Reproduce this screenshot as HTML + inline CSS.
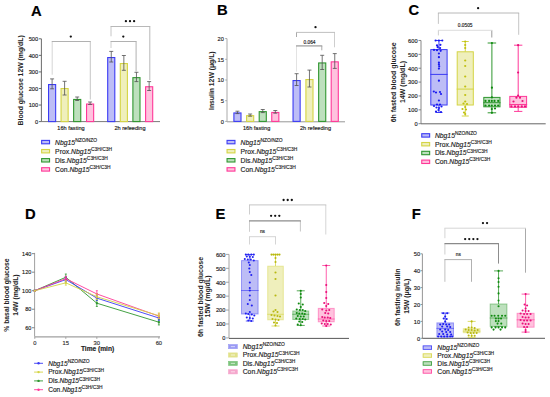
<!DOCTYPE html><html><head><meta charset="utf-8"><style>html,body{margin:0;padding:0;background:#fff;}svg{display:block;}text{font-family:"Liberation Sans", sans-serif;stroke:currentColor;stroke-width:0.15px;}</style></head><body>
<svg width="550" height="397" viewBox="0 0 550 397" font-family='"Liberation Sans", sans-serif'>
<rect width="550" height="397" fill="#fff"/>
<text x="31.00" y="15.50" font-size="14.8" text-anchor="start" font-weight="bold" font-style="normal" fill="#000" color="#000" >A</text>
<line x1="41.40" y1="38.80" x2="41.40" y2="121.60" stroke="#5a5a5a" stroke-width="0.9" />
<line x1="38.90" y1="121.60" x2="41.40" y2="121.60" stroke="#5a5a5a" stroke-width="0.9" />
<text x="38.20" y="123.95" font-size="5.7" text-anchor="end" font-weight="normal" font-style="normal" fill="#222" color="#222" >0</text>
<line x1="38.90" y1="105.04" x2="41.40" y2="105.04" stroke="#5a5a5a" stroke-width="0.9" />
<text x="38.20" y="107.39" font-size="5.7" text-anchor="end" font-weight="normal" font-style="normal" fill="#222" color="#222" >100</text>
<line x1="38.90" y1="88.48" x2="41.40" y2="88.48" stroke="#5a5a5a" stroke-width="0.9" />
<text x="38.20" y="90.83" font-size="5.7" text-anchor="end" font-weight="normal" font-style="normal" fill="#222" color="#222" >200</text>
<line x1="38.90" y1="71.92" x2="41.40" y2="71.92" stroke="#5a5a5a" stroke-width="0.9" />
<text x="38.20" y="74.27" font-size="5.7" text-anchor="end" font-weight="normal" font-style="normal" fill="#222" color="#222" >300</text>
<line x1="38.90" y1="55.36" x2="41.40" y2="55.36" stroke="#5a5a5a" stroke-width="0.9" />
<text x="38.20" y="57.71" font-size="5.7" text-anchor="end" font-weight="normal" font-style="normal" fill="#222" color="#222" >400</text>
<line x1="38.90" y1="38.80" x2="41.40" y2="38.80" stroke="#5a5a5a" stroke-width="0.9" />
<text x="38.20" y="41.15" font-size="5.7" text-anchor="end" font-weight="normal" font-style="normal" fill="#222" color="#222" >500</text>
<line x1="41.40" y1="121.60" x2="160.00" y2="121.60" stroke="#6a6a6a" stroke-width="0.9" />
<rect x="48.55" y="84.55" width="7.10" height="37.05" fill="#bdbdf6" stroke="#3b3bf4" stroke-width="1.1"/>
<line x1="52.10" y1="78.90" x2="52.10" y2="88.80" stroke="#505050" stroke-width="0.8" />
<line x1="50.10" y1="78.90" x2="54.10" y2="78.90" stroke="#505050" stroke-width="0.8" />
<line x1="50.10" y1="88.80" x2="54.10" y2="88.80" stroke="#505050" stroke-width="0.8" />
<rect x="61.05" y="88.55" width="7.10" height="33.05" fill="#efefbc" stroke="#d4d444" stroke-width="1.1"/>
<line x1="64.60" y1="81.30" x2="64.60" y2="95.00" stroke="#505050" stroke-width="0.8" />
<line x1="62.60" y1="81.30" x2="66.60" y2="81.30" stroke="#505050" stroke-width="0.8" />
<line x1="62.60" y1="95.00" x2="66.60" y2="95.00" stroke="#505050" stroke-width="0.8" />
<rect x="73.65" y="99.45" width="7.10" height="22.15" fill="#bde0bd" stroke="#2f962f" stroke-width="1.1"/>
<line x1="77.20" y1="97.00" x2="77.20" y2="100.50" stroke="#505050" stroke-width="0.8" />
<line x1="75.20" y1="97.00" x2="79.20" y2="97.00" stroke="#505050" stroke-width="0.8" />
<line x1="75.20" y1="100.50" x2="79.20" y2="100.50" stroke="#505050" stroke-width="0.8" />
<rect x="86.55" y="104.05" width="7.10" height="17.55" fill="#ffc2de" stroke="#ff3898" stroke-width="1.1"/>
<line x1="90.10" y1="102.00" x2="90.10" y2="104.50" stroke="#505050" stroke-width="0.8" />
<line x1="88.10" y1="102.00" x2="92.10" y2="102.00" stroke="#505050" stroke-width="0.8" />
<line x1="88.10" y1="104.50" x2="92.10" y2="104.50" stroke="#505050" stroke-width="0.8" />
<rect x="107.70" y="57.55" width="7.10" height="64.05" fill="#bdbdf6" stroke="#3b3bf4" stroke-width="1.1"/>
<line x1="111.25" y1="51.40" x2="111.25" y2="62.00" stroke="#505050" stroke-width="0.8" />
<line x1="109.25" y1="51.40" x2="113.25" y2="51.40" stroke="#505050" stroke-width="0.8" />
<line x1="109.25" y1="62.00" x2="113.25" y2="62.00" stroke="#505050" stroke-width="0.8" />
<rect x="120.30" y="63.55" width="7.10" height="58.05" fill="#efefbc" stroke="#d4d444" stroke-width="1.1"/>
<line x1="123.85" y1="55.50" x2="123.85" y2="70.30" stroke="#505050" stroke-width="0.8" />
<line x1="121.85" y1="55.50" x2="125.85" y2="55.50" stroke="#505050" stroke-width="0.8" />
<line x1="121.85" y1="70.30" x2="125.85" y2="70.30" stroke="#505050" stroke-width="0.8" />
<rect x="132.90" y="77.65" width="7.10" height="43.95" fill="#bde0bd" stroke="#2f962f" stroke-width="1.1"/>
<line x1="136.45" y1="72.30" x2="136.45" y2="81.60" stroke="#505050" stroke-width="0.8" />
<line x1="134.45" y1="72.30" x2="138.45" y2="72.30" stroke="#505050" stroke-width="0.8" />
<line x1="134.45" y1="81.60" x2="138.45" y2="81.60" stroke="#505050" stroke-width="0.8" />
<rect x="145.60" y="86.75" width="7.10" height="34.85" fill="#ffc2de" stroke="#ff3898" stroke-width="1.1"/>
<line x1="149.15" y1="81.60" x2="149.15" y2="90.50" stroke="#505050" stroke-width="0.8" />
<line x1="147.15" y1="81.60" x2="151.15" y2="81.60" stroke="#505050" stroke-width="0.8" />
<line x1="147.15" y1="90.50" x2="151.15" y2="90.50" stroke="#505050" stroke-width="0.8" />
<text x="71.00" y="130.00" font-size="5.6" text-anchor="middle" font-weight="normal" font-style="normal" fill="#222" color="#222" >16h fasting</text>
<text x="130.00" y="130.00" font-size="5.6" text-anchor="middle" font-weight="normal" font-style="normal" fill="#222" color="#222" >2h refeeding</text>
<text transform="translate(20.70,80.40) rotate(-90)" x="0" y="2.47" font-size="6.85" text-anchor="middle" font-weight="bold" fill="#222" style="stroke:none">Blood glucose 12W (mg/dL)</text>
<line x1="52.20" y1="41.50" x2="52.20" y2="74.70" stroke="#d0d0d0" stroke-width="0.9" />
<line x1="90.30" y1="41.50" x2="90.30" y2="99.50" stroke="#c0c0c0" stroke-width="0.9" />
<line x1="51.75" y1="41.50" x2="90.75" y2="41.50" stroke="#a8a8a8" stroke-width="0.9" />
<circle cx="70.80" cy="36.60" r="1.15" fill="#111"/>
<line x1="111.00" y1="41.50" x2="111.00" y2="48.00" stroke="#c8c8c8" stroke-width="0.9" />
<line x1="136.10" y1="41.50" x2="136.10" y2="71.50" stroke="#a8a8a8" stroke-width="0.9" />
<line x1="110.55" y1="41.50" x2="136.55" y2="41.50" stroke="#a8a8a8" stroke-width="0.9" />
<circle cx="123.30" cy="36.60" r="1.15" fill="#111"/>
<line x1="111.00" y1="26.50" x2="111.00" y2="36.30" stroke="#c0c0c0" stroke-width="0.9" />
<line x1="149.80" y1="26.50" x2="149.80" y2="80.00" stroke="#b0b0b0" stroke-width="0.9" />
<line x1="110.55" y1="26.50" x2="150.25" y2="26.50" stroke="#b0b0b0" stroke-width="0.9" />
<circle cx="125.90" cy="21.20" r="1.15" fill="#111"/>
<circle cx="130.00" cy="21.20" r="1.15" fill="#111"/>
<circle cx="134.10" cy="21.20" r="1.15" fill="#111"/>
<rect x="41.65" y="140.40" width="7.90" height="3.40" fill="#bdbdf6" stroke="#3b3bf4" stroke-width="1.1"/>
<text x="55.10" y="144.55" font-size="6.8" fill="#222" color="#222"><tspan font-style="italic">Nbg15</tspan><tspan font-size="4.9" dy="-2.86">NZO/NZO</tspan></text>
<rect x="41.65" y="149.50" width="7.90" height="3.40" fill="#efefbc" stroke="#d4d444" stroke-width="1.1"/>
<text x="55.10" y="153.65" font-size="6.8" fill="#222" color="#222">Prox.<tspan font-style="italic">Nbg15</tspan><tspan font-size="4.9" dy="-2.86">C3H/C3H</tspan></text>
<rect x="41.65" y="158.60" width="7.90" height="3.40" fill="#bde0bd" stroke="#2f962f" stroke-width="1.1"/>
<text x="55.10" y="162.75" font-size="6.8" fill="#222" color="#222">Dis.<tspan font-style="italic">Nbg15</tspan><tspan font-size="4.9" dy="-2.86">C3H/C3H</tspan></text>
<rect x="41.65" y="167.70" width="7.90" height="3.40" fill="#ffc2de" stroke="#ff3898" stroke-width="1.1"/>
<text x="55.10" y="171.85" font-size="6.8" fill="#222" color="#222">Con.<tspan font-style="italic">Nbg15</tspan><tspan font-size="4.9" dy="-2.86">C3H/C3H</tspan></text>
<text x="216.90" y="15.30" font-size="14.8" text-anchor="start" font-weight="bold" font-style="normal" fill="#000" color="#000" >B</text>
<line x1="227.00" y1="38.60" x2="227.00" y2="121.40" stroke="#a0a0a0" stroke-width="0.9" />
<line x1="225.20" y1="121.40" x2="227.00" y2="121.40" stroke="#a0a0a0" stroke-width="0.9" />
<text x="223.80" y="123.75" font-size="5.7" text-anchor="end" font-weight="normal" font-style="normal" fill="#222" color="#222" >0</text>
<line x1="225.20" y1="100.70" x2="227.00" y2="100.70" stroke="#a0a0a0" stroke-width="0.9" />
<text x="223.80" y="103.05" font-size="5.7" text-anchor="end" font-weight="normal" font-style="normal" fill="#222" color="#222" >5</text>
<line x1="225.20" y1="80.00" x2="227.00" y2="80.00" stroke="#a0a0a0" stroke-width="0.9" />
<text x="223.80" y="82.35" font-size="5.7" text-anchor="end" font-weight="normal" font-style="normal" fill="#222" color="#222" >10</text>
<line x1="225.20" y1="59.30" x2="227.00" y2="59.30" stroke="#a0a0a0" stroke-width="0.9" />
<text x="223.80" y="61.65" font-size="5.7" text-anchor="end" font-weight="normal" font-style="normal" fill="#222" color="#222" >15</text>
<line x1="225.20" y1="38.60" x2="227.00" y2="38.60" stroke="#a0a0a0" stroke-width="0.9" />
<text x="223.80" y="40.95" font-size="5.7" text-anchor="end" font-weight="normal" font-style="normal" fill="#222" color="#222" >20</text>
<line x1="227.00" y1="121.80" x2="345.00" y2="121.80" stroke="#8a8a8a" stroke-width="0.9" />
<rect x="233.90" y="112.95" width="7.10" height="8.45" fill="#bdbdf6" stroke="#3b3bf4" stroke-width="1.1"/>
<line x1="237.45" y1="111.20" x2="237.45" y2="113.60" stroke="#505050" stroke-width="0.8" />
<line x1="235.45" y1="111.20" x2="239.45" y2="111.20" stroke="#505050" stroke-width="0.8" />
<line x1="235.45" y1="113.60" x2="239.45" y2="113.60" stroke="#505050" stroke-width="0.8" />
<rect x="246.60" y="115.65" width="7.10" height="5.75" fill="#efefbc" stroke="#d4d444" stroke-width="1.1"/>
<line x1="250.15" y1="114.00" x2="250.15" y2="116.20" stroke="#505050" stroke-width="0.8" />
<line x1="248.15" y1="114.00" x2="252.15" y2="114.00" stroke="#505050" stroke-width="0.8" />
<line x1="248.15" y1="116.20" x2="252.15" y2="116.20" stroke="#505050" stroke-width="0.8" />
<rect x="259.20" y="111.65" width="7.10" height="9.75" fill="#bde0bd" stroke="#2f962f" stroke-width="1.1"/>
<line x1="262.75" y1="109.50" x2="262.75" y2="112.60" stroke="#505050" stroke-width="0.8" />
<line x1="260.75" y1="109.50" x2="264.75" y2="109.50" stroke="#505050" stroke-width="0.8" />
<line x1="260.75" y1="112.60" x2="264.75" y2="112.60" stroke="#505050" stroke-width="0.8" />
<rect x="271.75" y="112.45" width="7.10" height="8.95" fill="#ffc2de" stroke="#ff3898" stroke-width="1.1"/>
<line x1="275.30" y1="110.50" x2="275.30" y2="113.20" stroke="#505050" stroke-width="0.8" />
<line x1="273.30" y1="110.50" x2="277.30" y2="110.50" stroke="#505050" stroke-width="0.8" />
<line x1="273.30" y1="113.20" x2="277.30" y2="113.20" stroke="#505050" stroke-width="0.8" />
<rect x="293.05" y="80.55" width="7.10" height="40.85" fill="#bdbdf6" stroke="#3b3bf4" stroke-width="1.1"/>
<line x1="296.60" y1="73.70" x2="296.60" y2="85.50" stroke="#505050" stroke-width="0.8" />
<line x1="294.60" y1="73.70" x2="298.60" y2="73.70" stroke="#505050" stroke-width="0.8" />
<line x1="294.60" y1="85.50" x2="298.60" y2="85.50" stroke="#505050" stroke-width="0.8" />
<rect x="305.90" y="79.55" width="7.10" height="41.85" fill="#efefbc" stroke="#d4d444" stroke-width="1.1"/>
<line x1="309.45" y1="70.10" x2="309.45" y2="87.00" stroke="#505050" stroke-width="0.8" />
<line x1="307.45" y1="70.10" x2="311.45" y2="70.10" stroke="#505050" stroke-width="0.8" />
<line x1="307.45" y1="87.00" x2="311.45" y2="87.00" stroke="#505050" stroke-width="0.8" />
<rect x="318.65" y="62.95" width="7.10" height="58.45" fill="#bde0bd" stroke="#2f962f" stroke-width="1.1"/>
<line x1="322.20" y1="55.30" x2="322.20" y2="69.50" stroke="#505050" stroke-width="0.8" />
<line x1="320.20" y1="55.30" x2="324.20" y2="55.30" stroke="#505050" stroke-width="0.8" />
<line x1="320.20" y1="69.50" x2="324.20" y2="69.50" stroke="#505050" stroke-width="0.8" />
<rect x="331.20" y="61.85" width="7.10" height="59.55" fill="#ffc2de" stroke="#ff3898" stroke-width="1.1"/>
<line x1="334.75" y1="53.60" x2="334.75" y2="68.40" stroke="#505050" stroke-width="0.8" />
<line x1="332.75" y1="53.60" x2="336.75" y2="53.60" stroke="#505050" stroke-width="0.8" />
<line x1="332.75" y1="68.40" x2="336.75" y2="68.40" stroke="#505050" stroke-width="0.8" />
<text x="256.60" y="130.00" font-size="5.6" text-anchor="middle" font-weight="normal" font-style="normal" fill="#222" color="#222" >16h fasting</text>
<text x="315.50" y="130.00" font-size="5.6" text-anchor="middle" font-weight="normal" font-style="normal" fill="#222" color="#222" >2h refeeding</text>
<text transform="translate(211.40,80.70) rotate(-90)" x="0" y="2.45" font-size="6.8" text-anchor="middle" font-weight="bold" fill="#222" style="stroke:none">Insulin 12W (μg/L)</text>
<line x1="296.50" y1="32.40" x2="296.50" y2="37.00" stroke="#a0a0a0" stroke-width="0.9" />
<line x1="334.50" y1="32.40" x2="334.50" y2="47.30" stroke="#c8c8c8" stroke-width="0.9" />
<line x1="296.05" y1="32.40" x2="334.95" y2="32.40" stroke="#b8b8b8" stroke-width="0.9" />
<circle cx="315.50" cy="27.20" r="1.15" fill="#111"/>
<line x1="296.50" y1="45.90" x2="296.50" y2="71.70" stroke="#e0e0e0" stroke-width="0.9" />
<line x1="321.80" y1="45.90" x2="321.80" y2="50.30" stroke="#a0a0a0" stroke-width="0.9" />
<line x1="296.05" y1="45.90" x2="322.25" y2="45.90" stroke="#a0a0a0" stroke-width="1.3" />
<text x="309.50" y="43.60" font-size="4.8" text-anchor="middle" font-weight="normal" font-style="normal" fill="#222" color="#222" >0.064</text>
<rect x="227.05" y="140.40" width="7.90" height="3.40" fill="#bdbdf6" stroke="#3b3bf4" stroke-width="1.1"/>
<text x="240.50" y="144.55" font-size="6.8" fill="#222" color="#222"><tspan font-style="italic">Nbg15</tspan><tspan font-size="4.9" dy="-2.86">NZO/NZO</tspan></text>
<rect x="227.05" y="149.50" width="7.90" height="3.40" fill="#efefbc" stroke="#d4d444" stroke-width="1.1"/>
<text x="240.50" y="153.65" font-size="6.8" fill="#222" color="#222">Prox.<tspan font-style="italic">Nbg15</tspan><tspan font-size="4.9" dy="-2.86">C3H/C3H</tspan></text>
<rect x="227.05" y="158.60" width="7.90" height="3.40" fill="#bde0bd" stroke="#2f962f" stroke-width="1.1"/>
<text x="240.50" y="162.75" font-size="6.8" fill="#222" color="#222">Dis.<tspan font-style="italic">Nbg15</tspan><tspan font-size="4.9" dy="-2.86">C3H/C3H</tspan></text>
<rect x="227.05" y="167.70" width="7.90" height="3.40" fill="#ffc2de" stroke="#ff3898" stroke-width="1.1"/>
<text x="240.50" y="171.85" font-size="6.8" fill="#222" color="#222">Con.<tspan font-style="italic">Nbg15</tspan><tspan font-size="4.9" dy="-2.86">C3H/C3H</tspan></text>
<text x="408.60" y="15.30" font-size="14.8" text-anchor="start" font-weight="bold" font-style="normal" fill="#000" color="#000" >C</text>
<line x1="421.00" y1="40.48" x2="421.00" y2="123.70" stroke="#7a7a7a" stroke-width="0.9" />
<line x1="418.50" y1="123.70" x2="421.00" y2="123.70" stroke="#7a7a7a" stroke-width="0.9" />
<text x="417.60" y="126.05" font-size="5.7" text-anchor="end" font-weight="normal" font-style="normal" fill="#222" color="#222" >0</text>
<line x1="418.50" y1="109.83" x2="421.00" y2="109.83" stroke="#7a7a7a" stroke-width="0.9" />
<text x="417.60" y="112.18" font-size="5.7" text-anchor="end" font-weight="normal" font-style="normal" fill="#222" color="#222" >100</text>
<line x1="418.50" y1="95.96" x2="421.00" y2="95.96" stroke="#7a7a7a" stroke-width="0.9" />
<text x="417.60" y="98.31" font-size="5.7" text-anchor="end" font-weight="normal" font-style="normal" fill="#222" color="#222" >200</text>
<line x1="418.50" y1="82.09" x2="421.00" y2="82.09" stroke="#7a7a7a" stroke-width="0.9" />
<text x="417.60" y="84.44" font-size="5.7" text-anchor="end" font-weight="normal" font-style="normal" fill="#222" color="#222" >300</text>
<line x1="418.50" y1="68.22" x2="421.00" y2="68.22" stroke="#7a7a7a" stroke-width="0.9" />
<text x="417.60" y="70.57" font-size="5.7" text-anchor="end" font-weight="normal" font-style="normal" fill="#222" color="#222" >400</text>
<line x1="418.50" y1="54.35" x2="421.00" y2="54.35" stroke="#7a7a7a" stroke-width="0.9" />
<text x="417.60" y="56.70" font-size="5.7" text-anchor="end" font-weight="normal" font-style="normal" fill="#222" color="#222" >500</text>
<line x1="418.50" y1="40.48" x2="421.00" y2="40.48" stroke="#7a7a7a" stroke-width="0.9" />
<text x="417.60" y="42.83" font-size="5.7" text-anchor="end" font-weight="normal" font-style="normal" fill="#222" color="#222" >600</text>
<line x1="421.00" y1="123.80" x2="545.70" y2="123.80" stroke="#555" stroke-width="0.9" />
<line x1="438.95" y1="40.50" x2="438.95" y2="49.60" stroke="#3b3bf4" stroke-width="1.0" />
<line x1="438.95" y1="105.00" x2="438.95" y2="112.50" stroke="#3b3bf4" stroke-width="1.0" />
<line x1="435.45" y1="40.50" x2="442.45" y2="40.50" stroke="#3b3bf4" stroke-width="1.0" />
<line x1="435.45" y1="112.50" x2="442.45" y2="112.50" stroke="#3b3bf4" stroke-width="1.0" />
<rect x="430.80" y="49.60" width="16.30" height="55.40" fill="#bdbdf6" stroke="#3b3bf4" stroke-width="1.0"/>
<line x1="430.30" y1="74.40" x2="447.60" y2="74.40" stroke="#3b3bf4" stroke-width="1.0" />
<circle cx="435.60" cy="40.50" r="1.1" fill="#1a1af0"/>
<circle cx="438.90" cy="40.50" r="1.1" fill="#1a1af0"/>
<circle cx="442.30" cy="40.50" r="1.1" fill="#1a1af0"/>
<circle cx="437.00" cy="45.40" r="1.1" fill="#1a1af0"/>
<circle cx="440.40" cy="44.80" r="1.1" fill="#1a1af0"/>
<circle cx="437.70" cy="47.20" r="1.1" fill="#1a1af0"/>
<circle cx="440.10" cy="48.10" r="1.1" fill="#1a1af0"/>
<circle cx="434.00" cy="49.90" r="1.1" fill="#1a1af0"/>
<circle cx="437.00" cy="50.20" r="1.1" fill="#1a1af0"/>
<circle cx="440.70" cy="50.80" r="1.1" fill="#1a1af0"/>
<circle cx="438.90" cy="53.50" r="1.1" fill="#1a1af0"/>
<circle cx="438.90" cy="57.20" r="1.1" fill="#1a1af0"/>
<circle cx="438.90" cy="62.60" r="1.1" fill="#1a1af0"/>
<circle cx="438.90" cy="64.40" r="1.1" fill="#1a1af0"/>
<circle cx="439.20" cy="66.30" r="1.1" fill="#1a1af0"/>
<circle cx="438.90" cy="68.60" r="1.1" fill="#1a1af0"/>
<circle cx="438.90" cy="80.70" r="1.1" fill="#1a1af0"/>
<circle cx="433.80" cy="91.50" r="1.1" fill="#1a1af0"/>
<circle cx="436.00" cy="92.50" r="1.1" fill="#1a1af0"/>
<circle cx="440.00" cy="92.00" r="1.1" fill="#1a1af0"/>
<circle cx="441.00" cy="94.00" r="1.1" fill="#1a1af0"/>
<circle cx="438.90" cy="100.50" r="1.1" fill="#1a1af0"/>
<circle cx="437.00" cy="104.50" r="1.1" fill="#1a1af0"/>
<circle cx="440.00" cy="104.50" r="1.1" fill="#1a1af0"/>
<circle cx="434.00" cy="106.00" r="1.1" fill="#1a1af0"/>
<circle cx="436.50" cy="107.50" r="1.1" fill="#1a1af0"/>
<circle cx="439.00" cy="108.00" r="1.1" fill="#1a1af0"/>
<circle cx="441.50" cy="106.50" r="1.1" fill="#1a1af0"/>
<circle cx="438.50" cy="110.00" r="1.1" fill="#1a1af0"/>
<circle cx="436.00" cy="111.50" r="1.1" fill="#1a1af0"/>
<circle cx="441.00" cy="112.00" r="1.1" fill="#1a1af0"/>
<line x1="465.25" y1="41.50" x2="465.25" y2="51.80" stroke="#d4d444" stroke-width="1.0" />
<line x1="465.25" y1="105.00" x2="465.25" y2="116.00" stroke="#d4d444" stroke-width="1.0" />
<line x1="461.75" y1="41.50" x2="468.75" y2="41.50" stroke="#d4d444" stroke-width="1.0" />
<line x1="461.75" y1="116.00" x2="468.75" y2="116.00" stroke="#d4d444" stroke-width="1.0" />
<rect x="457.20" y="51.80" width="16.10" height="53.20" fill="#efefbc" stroke="#d4d444" stroke-width="1.0"/>
<line x1="456.70" y1="89.10" x2="473.80" y2="89.10" stroke="#d4d444" stroke-width="1.0" />
<circle cx="465.20" cy="41.50" r="1.1" fill="#c0c010"/>
<circle cx="465.20" cy="45.00" r="1.1" fill="#c0c010"/>
<circle cx="465.20" cy="48.00" r="1.1" fill="#c0c010"/>
<circle cx="465.20" cy="60.50" r="1.1" fill="#c0c010"/>
<circle cx="465.20" cy="66.00" r="1.1" fill="#c0c010"/>
<circle cx="465.20" cy="76.50" r="1.1" fill="#c0c010"/>
<circle cx="465.20" cy="86.50" r="1.1" fill="#c0c010"/>
<circle cx="465.20" cy="95.00" r="1.1" fill="#c0c010"/>
<circle cx="465.20" cy="101.50" r="1.1" fill="#c0c010"/>
<circle cx="463.50" cy="103.50" r="1.1" fill="#c0c010"/>
<circle cx="467.00" cy="104.00" r="1.1" fill="#c0c010"/>
<circle cx="465.20" cy="107.00" r="1.1" fill="#c0c010"/>
<circle cx="462.50" cy="109.00" r="1.1" fill="#c0c010"/>
<circle cx="466.00" cy="109.50" r="1.1" fill="#c0c010"/>
<circle cx="464.00" cy="112.50" r="1.1" fill="#c0c010"/>
<circle cx="465.20" cy="114.00" r="1.1" fill="#c0c010"/>
<line x1="491.90" y1="43.00" x2="491.90" y2="97.40" stroke="#2f962f" stroke-width="1.0" />
<line x1="491.90" y1="106.80" x2="491.90" y2="112.80" stroke="#2f962f" stroke-width="1.0" />
<line x1="487.65" y1="43.00" x2="496.15" y2="43.00" stroke="#2f962f" stroke-width="1.0" />
<line x1="487.65" y1="112.80" x2="496.15" y2="112.80" stroke="#2f962f" stroke-width="1.0" />
<rect x="483.80" y="97.40" width="16.20" height="9.40" fill="#bde0bd" stroke="#2f962f" stroke-width="1.0"/>
<line x1="483.30" y1="102.70" x2="500.50" y2="102.70" stroke="#2f962f" stroke-width="1.0" />
<circle cx="491.90" cy="43.00" r="1.1" fill="#108a10"/>
<circle cx="491.90" cy="87.70" r="1.1" fill="#108a10"/>
<circle cx="491.90" cy="97.40" r="1.1" fill="#108a10"/>
<circle cx="485.50" cy="100.90" r="1.1" fill="#108a10"/>
<circle cx="489.10" cy="100.90" r="1.1" fill="#108a10"/>
<circle cx="491.80" cy="100.90" r="1.1" fill="#108a10"/>
<circle cx="494.50" cy="100.90" r="1.1" fill="#108a10"/>
<circle cx="498.20" cy="100.90" r="1.1" fill="#108a10"/>
<circle cx="485.50" cy="105.50" r="1.1" fill="#108a10"/>
<circle cx="489.10" cy="105.50" r="1.1" fill="#108a10"/>
<circle cx="491.80" cy="105.50" r="1.1" fill="#108a10"/>
<circle cx="495.00" cy="105.50" r="1.1" fill="#108a10"/>
<circle cx="498.20" cy="105.50" r="1.1" fill="#108a10"/>
<circle cx="491.80" cy="109.10" r="1.1" fill="#108a10"/>
<circle cx="495.00" cy="108.50" r="1.1" fill="#108a10"/>
<circle cx="491.90" cy="112.80" r="1.1" fill="#108a10"/>
<line x1="518.20" y1="45.20" x2="518.20" y2="96.40" stroke="#ff3898" stroke-width="1.0" />
<line x1="518.20" y1="107.30" x2="518.20" y2="111.40" stroke="#ff3898" stroke-width="1.0" />
<line x1="514.05" y1="45.20" x2="522.35" y2="45.20" stroke="#ff3898" stroke-width="1.0" />
<line x1="514.05" y1="111.40" x2="522.35" y2="111.40" stroke="#ff3898" stroke-width="1.0" />
<rect x="509.80" y="96.40" width="16.80" height="10.90" fill="#ffc2de" stroke="#ff3898" stroke-width="1.0"/>
<line x1="509.30" y1="104.50" x2="527.10" y2="104.50" stroke="#ff3898" stroke-width="1.0" />
<circle cx="518.10" cy="45.20" r="1.1" fill="#e8107a"/>
<circle cx="518.10" cy="72.50" r="1.1" fill="#e8107a"/>
<circle cx="518.10" cy="95.50" r="1.1" fill="#e8107a"/>
<circle cx="516.40" cy="97.70" r="1.1" fill="#e8107a"/>
<circle cx="520.00" cy="97.70" r="1.1" fill="#e8107a"/>
<circle cx="511.40" cy="106.40" r="1.1" fill="#e8107a"/>
<circle cx="515.00" cy="106.40" r="1.1" fill="#e8107a"/>
<circle cx="518.20" cy="106.40" r="1.1" fill="#e8107a"/>
<circle cx="521.80" cy="106.40" r="1.1" fill="#e8107a"/>
<circle cx="525.00" cy="106.40" r="1.1" fill="#e8107a"/>
<circle cx="513.50" cy="101.50" r="1.1" fill="#e8107a"/>
<circle cx="522.50" cy="101.00" r="1.1" fill="#e8107a"/>
<text transform="translate(393.90,82.30) rotate(-90)" x="0" y="2.52" font-size="7.0" text-anchor="middle" font-weight="bold" fill="#222" style="stroke:none">6h fasted blood glucose</text>
<text transform="translate(402.70,82.00) rotate(-90)" x="0" y="2.52" font-size="7.0" text-anchor="middle" font-weight="bold" fill="#222" style="stroke:none">14W (mg/dL)</text>
<line x1="438.40" y1="13.00" x2="438.40" y2="23.90" stroke="#c0c0c0" stroke-width="0.9" />
<line x1="518.70" y1="13.00" x2="518.70" y2="34.80" stroke="#c0c0c0" stroke-width="0.9" />
<line x1="437.95" y1="13.00" x2="519.15" y2="13.00" stroke="#b0b0b0" stroke-width="0.9" />
<circle cx="478.10" cy="8.20" r="1.15" fill="#111"/>
<line x1="438.40" y1="30.30" x2="438.40" y2="35.40" stroke="#c8c8c8" stroke-width="0.9" />
<line x1="491.80" y1="30.30" x2="491.80" y2="37.50" stroke="#909090" stroke-width="0.9" />
<line x1="437.95" y1="30.30" x2="492.25" y2="30.30" stroke="#d8d8d8" stroke-width="0.9" />
<text x="465.20" y="27.30" font-size="4.8" text-anchor="middle" font-weight="normal" font-style="normal" fill="#222" color="#222" >0.0505</text>
<rect x="421.75" y="133.70" width="7.90" height="3.40" fill="#bdbdf6" stroke="#3b3bf4" stroke-width="1.1"/>
<text x="434.90" y="137.85" font-size="6.8" fill="#222" color="#222"><tspan font-style="italic">Nbg15</tspan><tspan font-size="4.9" dy="-2.86">NZO/NZO</tspan></text>
<rect x="421.75" y="142.50" width="7.90" height="3.40" fill="#efefbc" stroke="#d4d444" stroke-width="1.1"/>
<text x="434.90" y="146.65" font-size="6.8" fill="#222" color="#222">Prox.<tspan font-style="italic">Nbg15</tspan><tspan font-size="4.9" dy="-2.86">C3H/C3H</tspan></text>
<rect x="421.75" y="151.30" width="7.90" height="3.40" fill="#bde0bd" stroke="#2f962f" stroke-width="1.1"/>
<text x="434.90" y="155.45" font-size="6.8" fill="#222" color="#222">Dis.<tspan font-style="italic">Nbg15</tspan><tspan font-size="4.9" dy="-2.86">C3H/C3H</tspan></text>
<rect x="421.75" y="160.10" width="7.90" height="3.40" fill="#ffc2de" stroke="#ff3898" stroke-width="1.1"/>
<text x="434.90" y="164.25" font-size="6.8" fill="#222" color="#222">Con.<tspan font-style="italic">Nbg15</tspan><tspan font-size="4.9" dy="-2.86">C3H/C3H</tspan></text>
<text x="24.90" y="219.20" font-size="14.8" text-anchor="start" font-weight="bold" font-style="normal" fill="#000" color="#000" >D</text>
<line x1="34.60" y1="252.90" x2="34.60" y2="336.70" stroke="#959595" stroke-width="0.9" />
<line x1="32.00" y1="327.74" x2="34.60" y2="327.74" stroke="#777" stroke-width="0.9" />
<text x="31.30" y="329.74" font-size="5.5" text-anchor="end" font-weight="normal" font-style="normal" fill="#222" color="#222" >60</text>
<line x1="32.00" y1="309.22" x2="34.60" y2="309.22" stroke="#777" stroke-width="0.9" />
<text x="31.30" y="311.22" font-size="5.5" text-anchor="end" font-weight="normal" font-style="normal" fill="#222" color="#222" >80</text>
<line x1="32.00" y1="290.70" x2="34.60" y2="290.70" stroke="#777" stroke-width="0.9" />
<text x="31.30" y="292.70" font-size="5.5" text-anchor="end" font-weight="normal" font-style="normal" fill="#222" color="#222" >100</text>
<line x1="32.00" y1="272.18" x2="34.60" y2="272.18" stroke="#777" stroke-width="0.9" />
<text x="31.30" y="274.18" font-size="5.5" text-anchor="end" font-weight="normal" font-style="normal" fill="#222" color="#222" >120</text>
<line x1="32.00" y1="253.66" x2="34.60" y2="253.66" stroke="#777" stroke-width="0.9" />
<text x="31.30" y="255.66" font-size="5.5" text-anchor="end" font-weight="normal" font-style="normal" fill="#222" color="#222" >140</text>
<line x1="34.60" y1="336.90" x2="160.00" y2="336.90" stroke="#a0a0a0" stroke-width="1.4" />
<line x1="34.80" y1="336.90" x2="34.80" y2="338.80" stroke="#a0a0a0" stroke-width="1" />
<text x="34.80" y="344.80" font-size="5.8" text-anchor="middle" font-weight="normal" font-style="normal" fill="#333" color="#333" >0</text>
<line x1="65.82" y1="336.90" x2="65.82" y2="338.80" stroke="#a0a0a0" stroke-width="1" />
<text x="65.82" y="344.80" font-size="5.8" text-anchor="middle" font-weight="normal" font-style="normal" fill="#333" color="#333" >15</text>
<line x1="96.84" y1="336.90" x2="96.84" y2="338.80" stroke="#a0a0a0" stroke-width="1" />
<text x="96.84" y="344.80" font-size="5.8" text-anchor="middle" font-weight="normal" font-style="normal" fill="#333" color="#333" >30</text>
<line x1="158.88" y1="336.90" x2="158.88" y2="338.80" stroke="#a0a0a0" stroke-width="1" />
<text x="158.88" y="344.80" font-size="5.8" text-anchor="middle" font-weight="normal" font-style="normal" fill="#333" color="#333" >60</text>
<text x="97.50" y="351.30" font-size="6.6" text-anchor="middle" font-weight="bold" font-style="normal" fill="#222" color="#222" >Time (min)</text>
<text transform="translate(7.00,295.10) rotate(-90)" x="0" y="2.45" font-size="6.8" text-anchor="middle" font-weight="bold" fill="#222" style="stroke:none">% basal blood glucose</text>
<text transform="translate(15.50,295.00) rotate(-90)" x="0" y="2.48" font-size="6.9" text-anchor="middle" font-weight="bold" fill="#222" style="stroke:none">14W (mg/dL)</text>
<polyline points="34.80,290.70 65.82,277.27 96.84,303.20 158.88,322.18" stroke="#2f962f" stroke-width="0.9" fill="none"/>
<polyline points="34.80,290.70 65.82,279.59 96.84,298.11 158.88,318.02" stroke="#3b3bf4" stroke-width="0.9" fill="none"/>
<polyline points="34.80,290.70 65.82,278.66 96.84,293.94 158.88,316.16" stroke="#ff3898" stroke-width="0.9" fill="none"/>
<polyline points="34.80,290.70 65.82,282.83 96.84,296.72 158.88,315.70" stroke="#d4d444" stroke-width="0.9" fill="none"/>
<rect x="33.80" y="289.70" width="2.00" height="2.00" fill="#2f962f" stroke="none" stroke-width="1"/>
<line x1="65.82" y1="274.03" x2="65.82" y2="280.51" stroke="#2f962f" stroke-width="0.8" />
<line x1="64.82" y1="274.03" x2="66.82" y2="274.03" stroke="#2f962f" stroke-width="0.8" />
<line x1="64.82" y1="280.51" x2="66.82" y2="280.51" stroke="#2f962f" stroke-width="0.8" />
<rect x="64.82" y="276.27" width="2.00" height="2.00" fill="#2f962f" stroke="none" stroke-width="1"/>
<line x1="96.84" y1="299.96" x2="96.84" y2="306.44" stroke="#2f962f" stroke-width="0.8" />
<line x1="95.84" y1="299.96" x2="97.84" y2="299.96" stroke="#2f962f" stroke-width="0.8" />
<line x1="95.84" y1="306.44" x2="97.84" y2="306.44" stroke="#2f962f" stroke-width="0.8" />
<rect x="95.84" y="302.20" width="2.00" height="2.00" fill="#2f962f" stroke="none" stroke-width="1"/>
<line x1="158.88" y1="319.41" x2="158.88" y2="324.96" stroke="#2f962f" stroke-width="0.8" />
<line x1="157.88" y1="319.41" x2="159.88" y2="319.41" stroke="#2f962f" stroke-width="0.8" />
<line x1="157.88" y1="324.96" x2="159.88" y2="324.96" stroke="#2f962f" stroke-width="0.8" />
<rect x="157.88" y="321.18" width="2.00" height="2.00" fill="#2f962f" stroke="none" stroke-width="1"/>
<rect x="33.80" y="289.70" width="2.00" height="2.00" fill="#3b3bf4" stroke="none" stroke-width="1"/>
<line x1="65.82" y1="277.27" x2="65.82" y2="281.90" stroke="#3b3bf4" stroke-width="0.8" />
<line x1="64.82" y1="277.27" x2="66.82" y2="277.27" stroke="#3b3bf4" stroke-width="0.8" />
<line x1="64.82" y1="281.90" x2="66.82" y2="281.90" stroke="#3b3bf4" stroke-width="0.8" />
<rect x="64.82" y="278.59" width="2.00" height="2.00" fill="#3b3bf4" stroke="none" stroke-width="1"/>
<line x1="96.84" y1="295.79" x2="96.84" y2="300.42" stroke="#3b3bf4" stroke-width="0.8" />
<line x1="95.84" y1="295.79" x2="97.84" y2="295.79" stroke="#3b3bf4" stroke-width="0.8" />
<line x1="95.84" y1="300.42" x2="97.84" y2="300.42" stroke="#3b3bf4" stroke-width="0.8" />
<rect x="95.84" y="297.11" width="2.00" height="2.00" fill="#3b3bf4" stroke="none" stroke-width="1"/>
<line x1="158.88" y1="315.70" x2="158.88" y2="320.33" stroke="#3b3bf4" stroke-width="0.8" />
<line x1="157.88" y1="315.70" x2="159.88" y2="315.70" stroke="#3b3bf4" stroke-width="0.8" />
<line x1="157.88" y1="320.33" x2="159.88" y2="320.33" stroke="#3b3bf4" stroke-width="0.8" />
<rect x="157.88" y="317.02" width="2.00" height="2.00" fill="#3b3bf4" stroke="none" stroke-width="1"/>
<rect x="33.80" y="289.70" width="2.00" height="2.00" fill="#ff3898" stroke="none" stroke-width="1"/>
<line x1="65.82" y1="276.35" x2="65.82" y2="280.98" stroke="#ff3898" stroke-width="0.8" />
<line x1="64.82" y1="276.35" x2="66.82" y2="276.35" stroke="#ff3898" stroke-width="0.8" />
<line x1="64.82" y1="280.98" x2="66.82" y2="280.98" stroke="#ff3898" stroke-width="0.8" />
<rect x="64.82" y="277.66" width="2.00" height="2.00" fill="#ff3898" stroke="none" stroke-width="1"/>
<line x1="96.84" y1="290.70" x2="96.84" y2="297.18" stroke="#ff3898" stroke-width="0.8" />
<line x1="95.84" y1="290.70" x2="97.84" y2="290.70" stroke="#ff3898" stroke-width="0.8" />
<line x1="95.84" y1="297.18" x2="97.84" y2="297.18" stroke="#ff3898" stroke-width="0.8" />
<rect x="95.84" y="292.94" width="2.00" height="2.00" fill="#ff3898" stroke="none" stroke-width="1"/>
<line x1="158.88" y1="313.85" x2="158.88" y2="318.48" stroke="#ff3898" stroke-width="0.8" />
<line x1="157.88" y1="313.85" x2="159.88" y2="313.85" stroke="#ff3898" stroke-width="0.8" />
<line x1="157.88" y1="318.48" x2="159.88" y2="318.48" stroke="#ff3898" stroke-width="0.8" />
<rect x="157.88" y="315.16" width="2.00" height="2.00" fill="#ff3898" stroke="none" stroke-width="1"/>
<rect x="33.80" y="289.70" width="2.00" height="2.00" fill="#d4d444" stroke="none" stroke-width="1"/>
<line x1="65.82" y1="280.51" x2="65.82" y2="285.14" stroke="#d4d444" stroke-width="0.8" />
<line x1="64.82" y1="280.51" x2="66.82" y2="280.51" stroke="#d4d444" stroke-width="0.8" />
<line x1="64.82" y1="285.14" x2="66.82" y2="285.14" stroke="#d4d444" stroke-width="0.8" />
<rect x="64.82" y="281.83" width="2.00" height="2.00" fill="#d4d444" stroke="none" stroke-width="1"/>
<line x1="96.84" y1="293.94" x2="96.84" y2="299.50" stroke="#d4d444" stroke-width="0.8" />
<line x1="95.84" y1="293.94" x2="97.84" y2="293.94" stroke="#d4d444" stroke-width="0.8" />
<line x1="95.84" y1="299.50" x2="97.84" y2="299.50" stroke="#d4d444" stroke-width="0.8" />
<rect x="95.84" y="295.72" width="2.00" height="2.00" fill="#d4d444" stroke="none" stroke-width="1"/>
<line x1="158.88" y1="312.92" x2="158.88" y2="318.48" stroke="#d4d444" stroke-width="0.8" />
<line x1="157.88" y1="312.92" x2="159.88" y2="312.92" stroke="#d4d444" stroke-width="0.8" />
<line x1="157.88" y1="318.48" x2="159.88" y2="318.48" stroke="#d4d444" stroke-width="0.8" />
<rect x="157.88" y="314.70" width="2.00" height="2.00" fill="#d4d444" stroke="none" stroke-width="1"/>
<line x1="34.10" y1="363.30" x2="43.00" y2="363.30" stroke="#3b3bf4" stroke-width="0.9" />
<circle cx="38.55" cy="363.30" r="1.2" fill="#3b3bf4"/>
<text x="48.20" y="365.68" font-size="6.6" fill="#222" color="#222"><tspan font-style="italic">Nbg15</tspan><tspan font-size="4.9" dy="-2.77">NZO/NZO</tspan></text>
<line x1="34.10" y1="372.10" x2="43.00" y2="372.10" stroke="#d4d444" stroke-width="0.9" />
<circle cx="38.55" cy="372.10" r="1.2" fill="#d4d444"/>
<text x="48.20" y="374.48" font-size="6.6" fill="#222" color="#222">Prox.<tspan font-style="italic">Nbg15</tspan><tspan font-size="4.9" dy="-2.77">C3H/C3H</tspan></text>
<line x1="34.10" y1="380.90" x2="43.00" y2="380.90" stroke="#2f962f" stroke-width="0.9" />
<circle cx="38.55" cy="380.90" r="1.2" fill="#2f962f"/>
<text x="48.20" y="383.28" font-size="6.6" fill="#222" color="#222">Dis.<tspan font-style="italic">Nbg15</tspan><tspan font-size="4.9" dy="-2.77">C3H/C3H</tspan></text>
<line x1="34.10" y1="389.70" x2="43.00" y2="389.70" stroke="#ff3898" stroke-width="0.9" />
<circle cx="38.55" cy="389.70" r="1.2" fill="#ff3898"/>
<text x="48.20" y="392.08" font-size="6.6" fill="#222" color="#222">Con.<tspan font-style="italic">Nbg15</tspan><tspan font-size="4.9" dy="-2.77">C3H/C3H</tspan></text>
<text x="215.50" y="219.30" font-size="14.8" text-anchor="start" font-weight="bold" font-style="normal" fill="#000" color="#000" >E</text>
<line x1="229.00" y1="254.38" x2="229.00" y2="337.90" stroke="#9a9a9a" stroke-width="0.9" />
<line x1="226.00" y1="337.90" x2="229.00" y2="337.90" stroke="#9a9a9a" stroke-width="0.9" />
<text x="225.40" y="340.25" font-size="5.7" text-anchor="end" font-weight="normal" font-style="normal" fill="#222" color="#222" >0</text>
<line x1="226.00" y1="323.98" x2="229.00" y2="323.98" stroke="#9a9a9a" stroke-width="0.9" />
<text x="225.40" y="326.33" font-size="5.7" text-anchor="end" font-weight="normal" font-style="normal" fill="#222" color="#222" >100</text>
<line x1="226.00" y1="310.06" x2="229.00" y2="310.06" stroke="#9a9a9a" stroke-width="0.9" />
<text x="225.40" y="312.41" font-size="5.7" text-anchor="end" font-weight="normal" font-style="normal" fill="#222" color="#222" >200</text>
<line x1="226.00" y1="296.14" x2="229.00" y2="296.14" stroke="#9a9a9a" stroke-width="0.9" />
<text x="225.40" y="298.49" font-size="5.7" text-anchor="end" font-weight="normal" font-style="normal" fill="#222" color="#222" >300</text>
<line x1="226.00" y1="282.22" x2="229.00" y2="282.22" stroke="#9a9a9a" stroke-width="0.9" />
<text x="225.40" y="284.57" font-size="5.7" text-anchor="end" font-weight="normal" font-style="normal" fill="#222" color="#222" >400</text>
<line x1="226.00" y1="268.30" x2="229.00" y2="268.30" stroke="#9a9a9a" stroke-width="0.9" />
<text x="225.40" y="270.65" font-size="5.7" text-anchor="end" font-weight="normal" font-style="normal" fill="#222" color="#222" >500</text>
<line x1="226.00" y1="254.38" x2="229.00" y2="254.38" stroke="#9a9a9a" stroke-width="0.9" />
<text x="225.40" y="256.73" font-size="5.7" text-anchor="end" font-weight="normal" font-style="normal" fill="#222" color="#222" >600</text>
<line x1="229.00" y1="338.40" x2="349.00" y2="338.40" stroke="#444" stroke-width="0.9" />
<line x1="249.80" y1="254.50" x2="249.80" y2="260.60" stroke="#3b3bf4" stroke-width="0.8" />
<line x1="249.80" y1="314.00" x2="249.80" y2="321.00" stroke="#3b3bf4" stroke-width="0.8" />
<line x1="245.80" y1="254.50" x2="253.80" y2="254.50" stroke="#3b3bf4" stroke-width="0.8" />
<line x1="245.80" y1="321.00" x2="253.80" y2="321.00" stroke="#3b3bf4" stroke-width="0.8" />
<rect x="241.50" y="260.60" width="16.60" height="53.40" fill="#bdbdf6" stroke="#3b3bf4" stroke-opacity="0.45" stroke-width="1"/>
<line x1="241.00" y1="290.50" x2="258.60" y2="290.50" stroke="#3b3bf4" stroke-width="0.8" stroke-opacity="0.75"/>
<circle cx="245.80" cy="254.60" r="1.05" fill="#2020f0"/>
<circle cx="248.30" cy="254.60" r="1.05" fill="#2020f0"/>
<circle cx="251.30" cy="254.60" r="1.05" fill="#2020f0"/>
<circle cx="253.80" cy="254.60" r="1.05" fill="#2020f0"/>
<circle cx="246.80" cy="256.50" r="1.05" fill="#2020f0"/>
<circle cx="249.80" cy="256.80" r="1.05" fill="#2020f0"/>
<circle cx="252.80" cy="257.00" r="1.05" fill="#2020f0"/>
<circle cx="244.80" cy="259.00" r="1.05" fill="#2020f0"/>
<circle cx="247.80" cy="259.50" r="1.05" fill="#2020f0"/>
<circle cx="250.80" cy="259.50" r="1.05" fill="#2020f0"/>
<circle cx="253.80" cy="260.50" r="1.05" fill="#2020f0"/>
<circle cx="248.80" cy="262.50" r="1.05" fill="#2020f0"/>
<circle cx="249.80" cy="265.00" r="1.05" fill="#2020f0"/>
<circle cx="249.30" cy="268.50" r="1.05" fill="#2020f0"/>
<circle cx="249.80" cy="272.00" r="1.05" fill="#2020f0"/>
<circle cx="251.30" cy="275.00" r="1.05" fill="#2020f0"/>
<circle cx="249.80" cy="282.50" r="1.05" fill="#2020f0"/>
<circle cx="249.80" cy="288.00" r="1.05" fill="#2020f0"/>
<circle cx="249.80" cy="290.50" r="1.05" fill="#2020f0"/>
<circle cx="249.80" cy="295.50" r="1.05" fill="#2020f0"/>
<circle cx="249.80" cy="300.00" r="1.05" fill="#2020f0"/>
<circle cx="247.80" cy="304.00" r="1.05" fill="#2020f0"/>
<circle cx="251.80" cy="305.50" r="1.05" fill="#2020f0"/>
<circle cx="249.80" cy="312.00" r="1.05" fill="#2020f0"/>
<circle cx="245.80" cy="313.50" r="1.05" fill="#2020f0"/>
<circle cx="248.30" cy="314.00" r="1.05" fill="#2020f0"/>
<circle cx="251.80" cy="314.50" r="1.05" fill="#2020f0"/>
<circle cx="254.30" cy="315.50" r="1.05" fill="#2020f0"/>
<circle cx="246.80" cy="317.50" r="1.05" fill="#2020f0"/>
<circle cx="249.80" cy="318.00" r="1.05" fill="#2020f0"/>
<circle cx="252.80" cy="318.50" r="1.05" fill="#2020f0"/>
<circle cx="248.30" cy="320.50" r="1.05" fill="#2020f0"/>
<circle cx="251.30" cy="321.00" r="1.05" fill="#2020f0"/>
<line x1="275.50" y1="254.60" x2="275.50" y2="266.20" stroke="#d4d444" stroke-width="0.8" />
<line x1="275.50" y1="319.80" x2="275.50" y2="326.00" stroke="#d4d444" stroke-width="0.8" />
<line x1="271.50" y1="254.60" x2="279.50" y2="254.60" stroke="#d4d444" stroke-width="0.8" />
<line x1="271.50" y1="326.00" x2="279.50" y2="326.00" stroke="#d4d444" stroke-width="0.8" />
<rect x="267.70" y="266.20" width="15.60" height="53.60" fill="#efefbc" stroke="#d4d444" stroke-opacity="0.45" stroke-width="1"/>
<line x1="267.20" y1="314.30" x2="283.80" y2="314.30" stroke="#d4d444" stroke-width="0.8" stroke-opacity="0.75"/>
<circle cx="271.50" cy="254.60" r="1.05" fill="#b8b810"/>
<circle cx="273.50" cy="254.60" r="1.05" fill="#b8b810"/>
<circle cx="275.50" cy="254.60" r="1.05" fill="#b8b810"/>
<circle cx="277.50" cy="254.60" r="1.05" fill="#b8b810"/>
<circle cx="279.50" cy="254.60" r="1.05" fill="#b8b810"/>
<circle cx="275.50" cy="258.00" r="1.05" fill="#b8b810"/>
<circle cx="275.50" cy="262.00" r="1.05" fill="#b8b810"/>
<circle cx="275.50" cy="272.50" r="1.05" fill="#b8b810"/>
<circle cx="275.50" cy="279.00" r="1.05" fill="#b8b810"/>
<circle cx="275.50" cy="295.50" r="1.05" fill="#b8b810"/>
<circle cx="275.50" cy="310.00" r="1.05" fill="#b8b810"/>
<circle cx="273.50" cy="311.50" r="1.05" fill="#b8b810"/>
<circle cx="277.50" cy="312.00" r="1.05" fill="#b8b810"/>
<circle cx="271.50" cy="315.00" r="1.05" fill="#b8b810"/>
<circle cx="274.50" cy="315.50" r="1.05" fill="#b8b810"/>
<circle cx="277.50" cy="316.00" r="1.05" fill="#b8b810"/>
<circle cx="280.00" cy="316.50" r="1.05" fill="#b8b810"/>
<circle cx="272.50" cy="319.00" r="1.05" fill="#b8b810"/>
<circle cx="275.50" cy="319.50" r="1.05" fill="#b8b810"/>
<circle cx="278.50" cy="320.00" r="1.05" fill="#b8b810"/>
<circle cx="274.00" cy="322.50" r="1.05" fill="#b8b810"/>
<circle cx="277.00" cy="323.00" r="1.05" fill="#b8b810"/>
<circle cx="275.50" cy="325.50" r="1.05" fill="#b8b810"/>
<line x1="300.75" y1="290.80" x2="300.75" y2="311.00" stroke="#2f962f" stroke-width="0.8" />
<line x1="300.75" y1="319.50" x2="300.75" y2="325.40" stroke="#2f962f" stroke-width="0.8" />
<line x1="296.75" y1="290.80" x2="304.75" y2="290.80" stroke="#2f962f" stroke-width="0.8" />
<line x1="296.75" y1="325.40" x2="304.75" y2="325.40" stroke="#2f962f" stroke-width="0.8" />
<rect x="292.80" y="311.00" width="15.90" height="8.50" fill="#bde0bd" stroke="#2f962f" stroke-opacity="0.45" stroke-width="1"/>
<line x1="292.30" y1="314.30" x2="309.20" y2="314.30" stroke="#2f962f" stroke-width="0.8" stroke-opacity="0.75"/>
<circle cx="300.75" cy="290.80" r="1.05" fill="#108a10"/>
<circle cx="300.75" cy="294.00" r="1.05" fill="#108a10"/>
<circle cx="300.75" cy="297.50" r="1.05" fill="#108a10"/>
<circle cx="298.75" cy="303.50" r="1.05" fill="#108a10"/>
<circle cx="302.75" cy="304.50" r="1.05" fill="#108a10"/>
<circle cx="300.75" cy="307.00" r="1.05" fill="#108a10"/>
<circle cx="296.75" cy="309.50" r="1.05" fill="#108a10"/>
<circle cx="299.75" cy="310.00" r="1.05" fill="#108a10"/>
<circle cx="302.75" cy="310.00" r="1.05" fill="#108a10"/>
<circle cx="305.25" cy="311.00" r="1.05" fill="#108a10"/>
<circle cx="296.75" cy="313.00" r="1.05" fill="#108a10"/>
<circle cx="299.25" cy="313.50" r="1.05" fill="#108a10"/>
<circle cx="302.25" cy="313.50" r="1.05" fill="#108a10"/>
<circle cx="304.75" cy="314.00" r="1.05" fill="#108a10"/>
<circle cx="297.75" cy="316.00" r="1.05" fill="#108a10"/>
<circle cx="300.75" cy="316.50" r="1.05" fill="#108a10"/>
<circle cx="303.75" cy="316.50" r="1.05" fill="#108a10"/>
<circle cx="296.25" cy="318.50" r="1.05" fill="#108a10"/>
<circle cx="299.75" cy="319.00" r="1.05" fill="#108a10"/>
<circle cx="302.75" cy="319.00" r="1.05" fill="#108a10"/>
<circle cx="305.25" cy="319.50" r="1.05" fill="#108a10"/>
<circle cx="299.25" cy="321.50" r="1.05" fill="#108a10"/>
<circle cx="302.25" cy="322.00" r="1.05" fill="#108a10"/>
<circle cx="297.75" cy="324.50" r="1.05" fill="#108a10"/>
<circle cx="300.75" cy="325.20" r="1.05" fill="#108a10"/>
<line x1="326.25" y1="265.50" x2="326.25" y2="308.40" stroke="#ff3898" stroke-width="0.8" />
<line x1="326.25" y1="321.80" x2="326.25" y2="326.00" stroke="#ff3898" stroke-width="0.8" />
<line x1="322.25" y1="265.50" x2="330.25" y2="265.50" stroke="#ff3898" stroke-width="0.8" />
<line x1="322.25" y1="326.00" x2="330.25" y2="326.00" stroke="#ff3898" stroke-width="0.8" />
<rect x="318.30" y="308.40" width="15.90" height="13.40" fill="#ffc2de" stroke="#ff3898" stroke-opacity="0.45" stroke-width="1"/>
<line x1="317.80" y1="319.00" x2="334.70" y2="319.00" stroke="#ff3898" stroke-width="0.8" stroke-opacity="0.75"/>
<circle cx="326.25" cy="265.50" r="1.05" fill="#e8107a"/>
<circle cx="326.25" cy="285.00" r="1.05" fill="#e8107a"/>
<circle cx="326.25" cy="292.00" r="1.05" fill="#e8107a"/>
<circle cx="326.25" cy="298.00" r="1.05" fill="#e8107a"/>
<circle cx="324.25" cy="303.00" r="1.05" fill="#e8107a"/>
<circle cx="328.25" cy="304.00" r="1.05" fill="#e8107a"/>
<circle cx="326.25" cy="306.00" r="1.05" fill="#e8107a"/>
<circle cx="322.25" cy="309.50" r="1.05" fill="#e8107a"/>
<circle cx="326.25" cy="310.50" r="1.05" fill="#e8107a"/>
<circle cx="329.25" cy="310.00" r="1.05" fill="#e8107a"/>
<circle cx="325.25" cy="313.00" r="1.05" fill="#e8107a"/>
<circle cx="328.25" cy="313.50" r="1.05" fill="#e8107a"/>
<circle cx="322.25" cy="317.00" r="1.05" fill="#e8107a"/>
<circle cx="324.75" cy="317.50" r="1.05" fill="#e8107a"/>
<circle cx="327.75" cy="317.50" r="1.05" fill="#e8107a"/>
<circle cx="330.25" cy="318.00" r="1.05" fill="#e8107a"/>
<circle cx="323.25" cy="320.50" r="1.05" fill="#e8107a"/>
<circle cx="326.25" cy="321.00" r="1.05" fill="#e8107a"/>
<circle cx="329.25" cy="321.00" r="1.05" fill="#e8107a"/>
<circle cx="321.75" cy="323.50" r="1.05" fill="#e8107a"/>
<circle cx="324.75" cy="324.00" r="1.05" fill="#e8107a"/>
<circle cx="327.75" cy="324.00" r="1.05" fill="#e8107a"/>
<circle cx="330.75" cy="324.50" r="1.05" fill="#e8107a"/>
<circle cx="326.25" cy="326.00" r="1.05" fill="#e8107a"/>
<text transform="translate(200.40,297.00) rotate(-90)" x="0" y="2.52" font-size="7.0" text-anchor="middle" font-weight="bold" fill="#222" style="stroke:none">6h fasted blood glucose</text>
<text transform="translate(207.90,296.50) rotate(-90)" x="0" y="2.52" font-size="7.0" text-anchor="middle" font-weight="bold" fill="#222" style="stroke:none">15W (mg/dL)</text>
<line x1="249.50" y1="204.90" x2="249.50" y2="214.50" stroke="#c8c8c8" stroke-width="0.9" />
<line x1="325.80" y1="204.90" x2="325.80" y2="234.50" stroke="#d0d0d0" stroke-width="0.9" />
<line x1="249.05" y1="204.90" x2="326.25" y2="204.90" stroke="#c0c0c0" stroke-width="0.9" />
<circle cx="283.60" cy="200.00" r="1.15" fill="#111"/>
<circle cx="287.70" cy="200.00" r="1.15" fill="#111"/>
<circle cx="291.80" cy="200.00" r="1.15" fill="#111"/>
<line x1="249.50" y1="220.90" x2="249.50" y2="231.80" stroke="#c8c8c8" stroke-width="0.9" />
<line x1="300.40" y1="220.90" x2="300.40" y2="231.50" stroke="#c0c0c0" stroke-width="0.9" />
<line x1="249.05" y1="220.90" x2="300.85" y2="220.90" stroke="#8c8c8c" stroke-width="1.2" />
<circle cx="271.10" cy="215.80" r="1.15" fill="#111"/>
<circle cx="275.20" cy="215.80" r="1.15" fill="#111"/>
<circle cx="279.30" cy="215.80" r="1.15" fill="#111"/>
<line x1="249.50" y1="236.70" x2="249.50" y2="244.50" stroke="#d0d0d0" stroke-width="0.9" />
<line x1="275.50" y1="236.70" x2="275.50" y2="244.50" stroke="#d0d0d0" stroke-width="0.9" />
<line x1="249.05" y1="236.70" x2="275.95" y2="236.70" stroke="#d0d0d0" stroke-width="0.9" />
<text x="262.50" y="233.20" font-size="4.8" text-anchor="middle" font-weight="normal" font-style="normal" fill="#222" color="#222" >ns</text>
<rect x="228.50" y="344.50" width="8.80" height="4.20" fill="#9a9af4" stroke="#9a9af4" stroke-width="0.6"/>
<rect x="230.80" y="346.05" width="4.20" height="1.1" fill="#fff" fill-opacity="0.55"/>
<text x="242.70" y="349.05" font-size="6.8" fill="#222" color="#222"><tspan font-style="italic">Nbg15</tspan><tspan font-size="4.9" dy="-2.86">NZO/NZO</tspan></text>
<rect x="228.50" y="352.90" width="8.80" height="4.20" fill="#e2e28a" stroke="#e2e28a" stroke-width="0.6"/>
<rect x="230.80" y="354.45" width="4.20" height="1.1" fill="#fff" fill-opacity="0.55"/>
<text x="242.70" y="357.45" font-size="6.8" fill="#222" color="#222">Prox.<tspan font-style="italic">Nbg15</tspan><tspan font-size="4.9" dy="-2.86">C3H/C3H</tspan></text>
<rect x="228.50" y="361.30" width="8.80" height="4.20" fill="#7cc47c" stroke="#7cc47c" stroke-width="0.6"/>
<rect x="230.80" y="362.85" width="4.20" height="1.1" fill="#fff" fill-opacity="0.55"/>
<text x="242.70" y="365.85" font-size="6.8" fill="#222" color="#222">Dis.<tspan font-style="italic">Nbg15</tspan><tspan font-size="4.9" dy="-2.86">C3H/C3H</tspan></text>
<rect x="228.50" y="369.70" width="8.80" height="4.20" fill="#f5a6cc" stroke="#f5a6cc" stroke-width="0.6"/>
<rect x="230.80" y="371.25" width="4.20" height="1.1" fill="#fff" fill-opacity="0.55"/>
<text x="242.70" y="374.25" font-size="6.8" fill="#222" color="#222">Con.<tspan font-style="italic">Nbg15</tspan><tspan font-size="4.9" dy="-2.86">C3H/C3H</tspan></text>
<text x="411.80" y="219.30" font-size="14.8" text-anchor="start" font-weight="bold" font-style="normal" fill="#000" color="#000" >F</text>
<line x1="422.40" y1="253.80" x2="422.40" y2="338.30" stroke="#8a8a8a" stroke-width="0.9" />
<line x1="420.60" y1="338.30" x2="422.40" y2="338.30" stroke="#8a8a8a" stroke-width="0.9" />
<text x="420.10" y="340.65" font-size="5.7" text-anchor="end" font-weight="normal" font-style="normal" fill="#222" color="#222" >0</text>
<line x1="420.60" y1="321.40" x2="422.40" y2="321.40" stroke="#8a8a8a" stroke-width="0.9" />
<text x="420.10" y="323.75" font-size="5.7" text-anchor="end" font-weight="normal" font-style="normal" fill="#222" color="#222" >10</text>
<line x1="420.60" y1="304.50" x2="422.40" y2="304.50" stroke="#8a8a8a" stroke-width="0.9" />
<text x="420.10" y="306.85" font-size="5.7" text-anchor="end" font-weight="normal" font-style="normal" fill="#222" color="#222" >20</text>
<line x1="420.60" y1="287.60" x2="422.40" y2="287.60" stroke="#8a8a8a" stroke-width="0.9" />
<text x="420.10" y="289.95" font-size="5.7" text-anchor="end" font-weight="normal" font-style="normal" fill="#222" color="#222" >30</text>
<line x1="420.60" y1="270.70" x2="422.40" y2="270.70" stroke="#8a8a8a" stroke-width="0.9" />
<text x="420.10" y="273.05" font-size="5.7" text-anchor="end" font-weight="normal" font-style="normal" fill="#222" color="#222" >40</text>
<line x1="420.60" y1="253.80" x2="422.40" y2="253.80" stroke="#8a8a8a" stroke-width="0.9" />
<text x="420.10" y="256.15" font-size="5.7" text-anchor="end" font-weight="normal" font-style="normal" fill="#222" color="#222" >50</text>
<line x1="422.40" y1="338.30" x2="545.00" y2="338.30" stroke="#444" stroke-width="0.9" />
<line x1="445.20" y1="313.00" x2="445.20" y2="322.90" stroke="#3b3bf4" stroke-width="0.8" />
<line x1="445.20" y1="336.80" x2="445.20" y2="336.80" stroke="#3b3bf4" stroke-width="0.8" />
<line x1="440.95" y1="313.00" x2="449.45" y2="313.00" stroke="#3b3bf4" stroke-width="0.8" />
<line x1="440.95" y1="336.80" x2="449.45" y2="336.80" stroke="#3b3bf4" stroke-width="0.8" />
<rect x="436.90" y="322.90" width="16.60" height="13.90" fill="#bdbdf6" stroke="#3b3bf4" stroke-opacity="0.45" stroke-width="1"/>
<line x1="436.40" y1="328.40" x2="454.00" y2="328.40" stroke="#3b3bf4" stroke-width="0.8" stroke-opacity="0.75"/>
<circle cx="443.20" cy="313.20" r="1.05" fill="#1a1af0"/>
<circle cx="447.20" cy="313.20" r="1.05" fill="#1a1af0"/>
<circle cx="445.20" cy="316.50" r="1.05" fill="#1a1af0"/>
<circle cx="443.70" cy="318.50" r="1.05" fill="#1a1af0"/>
<circle cx="446.70" cy="319.00" r="1.05" fill="#1a1af0"/>
<circle cx="445.20" cy="321.50" r="1.05" fill="#1a1af0"/>
<circle cx="440.20" cy="324.50" r="1.05" fill="#1a1af0"/>
<circle cx="443.20" cy="324.00" r="1.05" fill="#1a1af0"/>
<circle cx="446.20" cy="324.50" r="1.05" fill="#1a1af0"/>
<circle cx="449.20" cy="324.50" r="1.05" fill="#1a1af0"/>
<circle cx="442.20" cy="326.50" r="1.05" fill="#1a1af0"/>
<circle cx="447.20" cy="326.50" r="1.05" fill="#1a1af0"/>
<circle cx="450.20" cy="327.00" r="1.05" fill="#1a1af0"/>
<circle cx="440.20" cy="329.50" r="1.05" fill="#1a1af0"/>
<circle cx="445.20" cy="329.50" r="1.05" fill="#1a1af0"/>
<circle cx="448.20" cy="330.00" r="1.05" fill="#1a1af0"/>
<circle cx="442.20" cy="331.50" r="1.05" fill="#1a1af0"/>
<circle cx="446.20" cy="332.00" r="1.05" fill="#1a1af0"/>
<circle cx="450.20" cy="332.00" r="1.05" fill="#1a1af0"/>
<circle cx="439.20" cy="334.00" r="1.05" fill="#1a1af0"/>
<circle cx="443.20" cy="334.00" r="1.05" fill="#1a1af0"/>
<circle cx="447.20" cy="334.50" r="1.05" fill="#1a1af0"/>
<circle cx="451.20" cy="334.50" r="1.05" fill="#1a1af0"/>
<circle cx="438.20" cy="336.50" r="1.05" fill="#1a1af0"/>
<circle cx="441.20" cy="336.50" r="1.05" fill="#1a1af0"/>
<circle cx="444.20" cy="336.50" r="1.05" fill="#1a1af0"/>
<circle cx="447.20" cy="336.50" r="1.05" fill="#1a1af0"/>
<circle cx="450.20" cy="336.50" r="1.05" fill="#1a1af0"/>
<circle cx="452.20" cy="336.50" r="1.05" fill="#1a1af0"/>
<line x1="471.65" y1="321.40" x2="471.65" y2="328.70" stroke="#d4d444" stroke-width="0.8" />
<line x1="471.65" y1="332.70" x2="471.65" y2="337.40" stroke="#d4d444" stroke-width="0.8" />
<line x1="467.65" y1="321.40" x2="475.65" y2="321.40" stroke="#d4d444" stroke-width="0.8" />
<line x1="467.65" y1="337.40" x2="475.65" y2="337.40" stroke="#d4d444" stroke-width="0.8" />
<rect x="463.30" y="328.70" width="16.70" height="4.00" fill="#efefbc" stroke="#d4d444" stroke-opacity="0.45" stroke-width="1"/>
<line x1="462.80" y1="331.20" x2="480.50" y2="331.20" stroke="#d4d444" stroke-width="0.8" stroke-opacity="0.75"/>
<circle cx="471.65" cy="321.40" r="1.05" fill="#b8b810"/>
<circle cx="468.65" cy="327.50" r="1.05" fill="#b8b810"/>
<circle cx="471.65" cy="327.50" r="1.05" fill="#b8b810"/>
<circle cx="474.65" cy="328.00" r="1.05" fill="#b8b810"/>
<circle cx="465.65" cy="329.50" r="1.05" fill="#b8b810"/>
<circle cx="468.65" cy="330.00" r="1.05" fill="#b8b810"/>
<circle cx="471.65" cy="330.00" r="1.05" fill="#b8b810"/>
<circle cx="474.65" cy="330.50" r="1.05" fill="#b8b810"/>
<circle cx="477.65" cy="330.00" r="1.05" fill="#b8b810"/>
<circle cx="467.65" cy="332.50" r="1.05" fill="#b8b810"/>
<circle cx="470.65" cy="333.00" r="1.05" fill="#b8b810"/>
<circle cx="473.65" cy="333.00" r="1.05" fill="#b8b810"/>
<circle cx="476.65" cy="333.00" r="1.05" fill="#b8b810"/>
<circle cx="468.65" cy="335.50" r="1.05" fill="#b8b810"/>
<circle cx="471.65" cy="335.80" r="1.05" fill="#b8b810"/>
<circle cx="474.65" cy="335.80" r="1.05" fill="#b8b810"/>
<line x1="498.55" y1="270.90" x2="498.55" y2="304.00" stroke="#2f962f" stroke-width="0.8" />
<line x1="498.55" y1="326.40" x2="498.55" y2="326.40" stroke="#2f962f" stroke-width="0.8" />
<line x1="494.05" y1="270.90" x2="503.05" y2="270.90" stroke="#2f962f" stroke-width="0.8" />
<line x1="494.05" y1="326.40" x2="503.05" y2="326.40" stroke="#2f962f" stroke-width="0.8" />
<rect x="490.20" y="304.00" width="16.70" height="22.40" fill="#bde0bd" stroke="#2f962f" stroke-opacity="0.45" stroke-width="1"/>
<line x1="489.70" y1="318.00" x2="507.40" y2="318.00" stroke="#2f962f" stroke-width="0.8" stroke-opacity="0.75"/>
<circle cx="498.55" cy="270.90" r="1.05" fill="#108a10"/>
<circle cx="498.55" cy="278.20" r="1.05" fill="#108a10"/>
<circle cx="498.55" cy="282.00" r="1.05" fill="#108a10"/>
<circle cx="498.55" cy="286.70" r="1.05" fill="#108a10"/>
<circle cx="498.55" cy="293.40" r="1.05" fill="#108a10"/>
<circle cx="498.55" cy="300.50" r="1.05" fill="#108a10"/>
<circle cx="498.55" cy="306.20" r="1.05" fill="#108a10"/>
<circle cx="491.65" cy="315.70" r="1.05" fill="#108a10"/>
<circle cx="494.55" cy="315.70" r="1.05" fill="#108a10"/>
<circle cx="498.25" cy="315.70" r="1.05" fill="#108a10"/>
<circle cx="502.05" cy="315.70" r="1.05" fill="#108a10"/>
<circle cx="505.25" cy="315.70" r="1.05" fill="#108a10"/>
<circle cx="495.85" cy="318.50" r="1.05" fill="#108a10"/>
<circle cx="498.55" cy="318.50" r="1.05" fill="#108a10"/>
<circle cx="501.05" cy="318.50" r="1.05" fill="#108a10"/>
<circle cx="495.85" cy="321.10" r="1.05" fill="#108a10"/>
<circle cx="498.55" cy="321.10" r="1.05" fill="#108a10"/>
<circle cx="501.25" cy="323.60" r="1.05" fill="#108a10"/>
<circle cx="497.55" cy="323.60" r="1.05" fill="#108a10"/>
<circle cx="491.65" cy="327.40" r="1.05" fill="#108a10"/>
<circle cx="495.55" cy="327.40" r="1.05" fill="#108a10"/>
<circle cx="498.55" cy="327.40" r="1.05" fill="#108a10"/>
<circle cx="502.05" cy="327.40" r="1.05" fill="#108a10"/>
<circle cx="505.25" cy="327.40" r="1.05" fill="#108a10"/>
<circle cx="493.55" cy="329.60" r="1.05" fill="#108a10"/>
<circle cx="500.55" cy="329.60" r="1.05" fill="#108a10"/>
<line x1="525.60" y1="294.10" x2="525.60" y2="313.30" stroke="#ff3898" stroke-width="0.8" />
<line x1="525.60" y1="327.20" x2="525.60" y2="332.10" stroke="#ff3898" stroke-width="0.8" />
<line x1="521.60" y1="294.10" x2="529.60" y2="294.10" stroke="#ff3898" stroke-width="0.8" />
<line x1="521.60" y1="332.10" x2="529.60" y2="332.10" stroke="#ff3898" stroke-width="0.8" />
<rect x="517.10" y="313.30" width="17.00" height="13.90" fill="#ffc2de" stroke="#ff3898" stroke-opacity="0.45" stroke-width="1"/>
<line x1="516.60" y1="319.80" x2="534.60" y2="319.80" stroke="#ff3898" stroke-width="0.8" stroke-opacity="0.75"/>
<circle cx="525.60" cy="294.10" r="1.05" fill="#e8107a"/>
<circle cx="524.60" cy="304.50" r="1.05" fill="#e8107a"/>
<circle cx="527.10" cy="305.50" r="1.05" fill="#e8107a"/>
<circle cx="525.60" cy="308.50" r="1.05" fill="#e8107a"/>
<circle cx="522.60" cy="310.50" r="1.05" fill="#e8107a"/>
<circle cx="525.60" cy="311.00" r="1.05" fill="#e8107a"/>
<circle cx="528.60" cy="311.00" r="1.05" fill="#e8107a"/>
<circle cx="520.60" cy="313.50" r="1.05" fill="#e8107a"/>
<circle cx="524.10" cy="314.00" r="1.05" fill="#e8107a"/>
<circle cx="527.10" cy="314.00" r="1.05" fill="#e8107a"/>
<circle cx="530.60" cy="314.00" r="1.05" fill="#e8107a"/>
<circle cx="522.60" cy="317.00" r="1.05" fill="#e8107a"/>
<circle cx="525.60" cy="317.50" r="1.05" fill="#e8107a"/>
<circle cx="528.60" cy="317.50" r="1.05" fill="#e8107a"/>
<circle cx="520.60" cy="320.00" r="1.05" fill="#e8107a"/>
<circle cx="524.10" cy="320.50" r="1.05" fill="#e8107a"/>
<circle cx="527.10" cy="320.50" r="1.05" fill="#e8107a"/>
<circle cx="530.60" cy="320.50" r="1.05" fill="#e8107a"/>
<circle cx="522.60" cy="323.50" r="1.05" fill="#e8107a"/>
<circle cx="525.60" cy="324.00" r="1.05" fill="#e8107a"/>
<circle cx="528.60" cy="324.00" r="1.05" fill="#e8107a"/>
<circle cx="524.10" cy="327.00" r="1.05" fill="#e8107a"/>
<circle cx="527.10" cy="327.00" r="1.05" fill="#e8107a"/>
<circle cx="525.60" cy="330.00" r="1.05" fill="#e8107a"/>
<circle cx="525.60" cy="332.00" r="1.05" fill="#e8107a"/>
<text transform="translate(397.80,297.20) rotate(-90)" x="0" y="2.52" font-size="7.0" text-anchor="middle" font-weight="bold" fill="#222" style="stroke:none">6h fasting insulin</text>
<text transform="translate(406.50,296.20) rotate(-90)" x="0" y="2.48" font-size="6.9" text-anchor="middle" font-weight="bold" fill="#222" style="stroke:none">15W (μg/L)</text>
<line x1="444.90" y1="228.20" x2="444.90" y2="238.20" stroke="#d0d0d0" stroke-width="0.9" />
<line x1="525.50" y1="228.20" x2="525.50" y2="272.70" stroke="#a0a0a0" stroke-width="0.9" />
<line x1="444.45" y1="228.20" x2="525.95" y2="228.20" stroke="#d0d0d0" stroke-width="0.9" />
<circle cx="482.95" cy="223.10" r="1.15" fill="#111"/>
<circle cx="487.05" cy="223.10" r="1.15" fill="#111"/>
<line x1="444.90" y1="243.60" x2="444.90" y2="254.50" stroke="#c8c8c8" stroke-width="0.9" />
<line x1="498.50" y1="243.60" x2="498.50" y2="263.60" stroke="#808080" stroke-width="0.9" />
<line x1="444.45" y1="243.60" x2="498.95" y2="243.60" stroke="#8a8a8a" stroke-width="1.2" />
<circle cx="465.15" cy="239.10" r="1.15" fill="#111"/>
<circle cx="469.25" cy="239.10" r="1.15" fill="#111"/>
<circle cx="473.35" cy="239.10" r="1.15" fill="#111"/>
<circle cx="477.45" cy="239.10" r="1.15" fill="#111"/>
<line x1="444.90" y1="259.60" x2="444.90" y2="281.80" stroke="#b8b8b8" stroke-width="0.9" />
<line x1="471.50" y1="259.60" x2="471.50" y2="281.80" stroke="#a8a8a8" stroke-width="0.9" />
<line x1="444.45" y1="259.60" x2="471.95" y2="259.60" stroke="#a8a8a8" stroke-width="0.9" />
<text x="458.30" y="256.30" font-size="4.8" text-anchor="middle" font-weight="normal" font-style="normal" fill="#222" color="#222" >ns</text>
<rect x="423.10" y="345.85" width="8.50" height="3.50" fill="#bdbdf6" stroke="#3b3bf4" stroke-width="0.8"/>
<text x="437.30" y="350.05" font-size="6.8" fill="#222" color="#222"><tspan font-style="italic">Nbg15</tspan><tspan font-size="4.9" dy="-2.86">NZO/NZO</tspan></text>
<rect x="423.10" y="353.80" width="8.50" height="3.50" fill="#efefbc" stroke="#d4d444" stroke-width="0.8"/>
<text x="437.30" y="358.00" font-size="6.8" fill="#222" color="#222">Prox.<tspan font-style="italic">Nbg15</tspan><tspan font-size="4.9" dy="-2.86">C3H/C3H</tspan></text>
<rect x="423.10" y="361.75" width="8.50" height="3.50" fill="#bde0bd" stroke="#2f962f" stroke-width="0.8"/>
<text x="437.30" y="365.95" font-size="6.8" fill="#222" color="#222">Dis.<tspan font-style="italic">Nbg15</tspan><tspan font-size="4.9" dy="-2.86">C3H/C3H</tspan></text>
<rect x="423.10" y="369.70" width="8.50" height="3.50" fill="#ffc2de" stroke="#ff3898" stroke-width="0.8"/>
<text x="437.30" y="373.90" font-size="6.8" fill="#222" color="#222">Con.<tspan font-style="italic">Nbg15</tspan><tspan font-size="4.9" dy="-2.86">C3H/C3H</tspan></text>
</svg></body></html>
